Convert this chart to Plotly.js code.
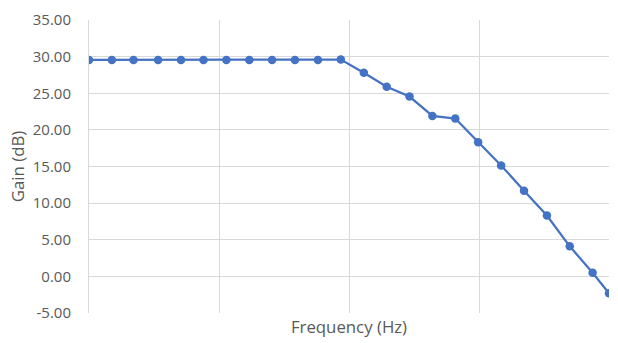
<!DOCTYPE html>
<html>
<head>
<meta charset="utf-8">
<script src="https://cdn.plot.ly/plotly-3.0.1.min.js"></script>
<style>html,body{margin:0;padding:0;background:#fff;}#chart{width:618px;height:343px;}</style>
</head>
<body>
<div id="chart"></div>
<script>
const frequencyHz = [10, 15, 22, 34, 51, 76, 114, 171, 256, 384, 577, 865, 1300, 1950, 2920, 4380, 6570, 9850, 14800, 22200, 33300, 49900, 74800, 100000];
const gainDb = [29.55, 29.55, 29.55, 29.55, 29.55, 29.55, 29.55, 29.55, 29.55, 29.55, 29.55, 29.6, 27.8, 25.9, 24.55, 21.9, 21.55, 18.3, 15.15, 11.7, 8.3, 4.1, 0.5, -2.3];
const yTickVals = [-5, 0, 5, 10, 15, 20, 25, 30, 35];
const yTickText = ["-5.00", "0.00", "5.00", "10.00", "15.00", "20.00", "25.00", "30.00", "35.00"];

const trace = {
  x: frequencyHz,
  y: gainDb,
  type: 'scatter',
  mode: 'lines+markers',
  line: {color: '#4472C4', width: 2.25},
  marker: {color: '#4472C4', size: 8.5},
  hoverinfo: 'x+y'
};

const layout = {
  width: 618,
  height: 343,
  margin: {l: 89, r: 9, t: 20, b: 30},
  paper_bgcolor: '#ffffff',
  plot_bgcolor: '#ffffff',
  showlegend: false,
  font: {family: '"Open Sans", "Noto Sans", sans-serif', size: 15, color: '#595959'},
  xaxis: {
    type: 'log',
    range: [1, 5],
    dtick: 1,
    showticklabels: false,
    ticks: '',
    showgrid: true,
    gridcolor: '#d9d9d9',
    gridwidth: 1,
    zeroline: false,
    showline: false,
    title: {text: 'Frequency (Hz)', font: {size: 16.8, color: '#595959'}, standoff: 8}
  },
  yaxis: {
    range: [-5, 35],
    tickmode: 'array',
    tickvals: yTickVals,
    ticktext: yTickText,
    ticks: '',
    ticklabelstandoff: 14,
    showgrid: true,
    gridcolor: '#d9d9d9',
    gridwidth: 1,
    zeroline: false,
    showline: true,
    linecolor: '#d9d9d9',
    linewidth: 1,
    title: {text: 'Gain (dB)', font: {size: 16.8, color: '#595959'}, standoff: 3}
  }
};

Plotly.newPlot('chart', [trace], layout, {displayModeBar: false, staticPlot: true});
</script>
</body>
</html>
